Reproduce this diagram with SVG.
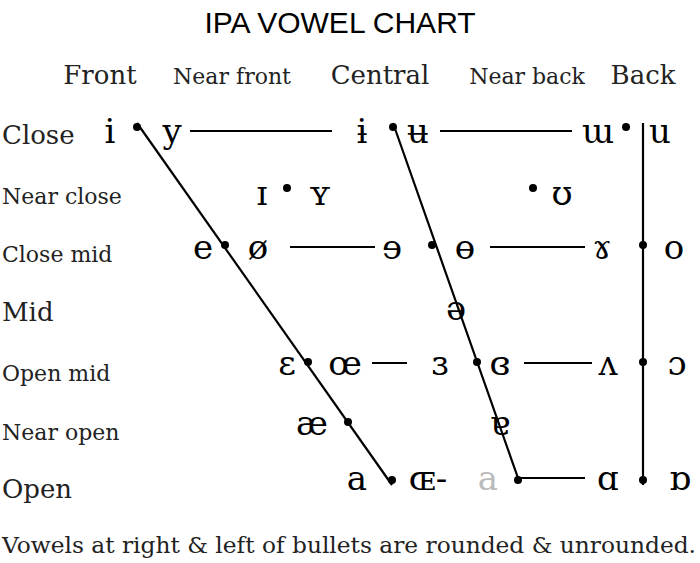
<svg xmlns="http://www.w3.org/2000/svg" width="700" height="563" viewBox="0 0 700 563">
<style>
.t{font-family:"Liberation Sans",Arial,sans-serif;font-size:30px;fill:#000}
.h{font-family:"DejaVu Serif","Liberation Serif",serif;fill:#222}
.r{font-family:"DejaVu Serif","Liberation Serif",serif;font-size:22px;fill:#222}
.v{font-family:"DejaVu Serif","Liberation Serif",serif;font-size:34px;fill:#000;text-anchor:middle}
.g{fill:#bbb}
.l{stroke:#000;stroke-width:2.2;fill:none}
</style>
<rect width="700" height="563" fill="#fff"/>
<text class="t" x="340" y="33" text-anchor="middle">IPA VOWEL CHART</text>
<g class="h" text-anchor="middle">
<text x="100" y="84" font-size="26">Front</text>
<text x="232" y="84" font-size="22">Near front</text>
<text x="380" y="84" font-size="26">Central</text>
<text x="527" y="84" font-size="22">Near back</text>
<text x="643" y="84" font-size="26">Back</text>
</g>
<g class="r">
<text x="2" y="144" font-size="26">Close</text>
<text x="2" y="204">Near close</text>
<text x="2" y="262">Close mid</text>
<text x="2" y="321" font-size="26">Mid</text>
<text x="2" y="381">Open mid</text>
<text x="2" y="440">Near open</text>
<text x="2" y="498" font-size="26">Open</text>
</g>
<g id="connectors">
<path class="l" d="M137,123 L392,485"/>
<path class="l" d="M393,123 L518,478 L585,478"/>
<path class="l" d="M643,123 L643,485"/>
<path class="l" d="M190,131 H332 M440,131 H572 M290,247 H375 M490,247 H585 M372,363 H407 M524,363 H592"/>
</g>
<g id="vowels">
<text class="v" x="110" y="143">i</text><text class="v" x="172" y="143">y</text>
<text class="v" x="362" y="143">ɨ</text><text class="v" x="418" y="143">ʉ</text>
<text class="v" x="598" y="143">ɯ</text><text class="v" x="660" y="143">u</text>
<text class="v" x="262" y="205" font-size="28">ɪ</text><text class="v" x="320" y="205" font-size="28">ʏ</text>
<text class="v" x="562" y="205" font-size="28">ʊ</text>
<text class="v" x="203" y="259">e</text><text class="v" x="258" y="259">ø</text>
<text class="v" x="392" y="259">ɘ</text><text class="v" x="465" y="259">ɵ</text>
<text class="v" x="602" y="259">ɤ</text><text class="v" x="674" y="259">o</text>
<text class="v" x="456" y="320">ə</text>
<text class="v" x="287" y="375">ɛ</text><text class="v" x="345" y="375">œ</text>
<text class="v" x="440" y="375">ɜ</text><text class="v" x="500" y="375">ɞ</text>
<text class="v" x="608" y="375">ʌ</text><text class="v" x="677" y="375">ɔ</text>
<text class="v" x="312" y="435">æ</text><text class="v" x="500" y="435">ɐ</text>
<text class="v" x="357" y="490">a</text><text class="v" x="428" y="490">ɶ-</text>
<text class="v g" x="488" y="490">a</text>
<text class="v" x="608" y="490">ɑ</text><text class="v" x="680" y="490">ɒ</text>
</g>
<g id="bullets" fill="#000">
<circle cx="137" cy="127" r="4"/><circle cx="393" cy="127" r="4"/><circle cx="626" cy="127" r="4"/>
<circle cx="287" cy="188" r="4"/><circle cx="533" cy="188" r="4"/>
<circle cx="225" cy="245" r="4"/><circle cx="432" cy="245" r="4"/><circle cx="643" cy="245" r="4"/>
<circle cx="308" cy="362" r="4"/><circle cx="477" cy="362" r="4"/><circle cx="643" cy="362" r="4"/>
<circle cx="348" cy="422" r="4"/>
<circle cx="392" cy="480" r="4"/><circle cx="518" cy="480" r="4"/><circle cx="643" cy="480" r="4"/>
</g>
<text class="h" x="2" y="553" font-size="23" textLength="694" lengthAdjust="spacingAndGlyphs">Vowels at right &amp; left of bullets are rounded &amp; unrounded.</text>
</svg>
